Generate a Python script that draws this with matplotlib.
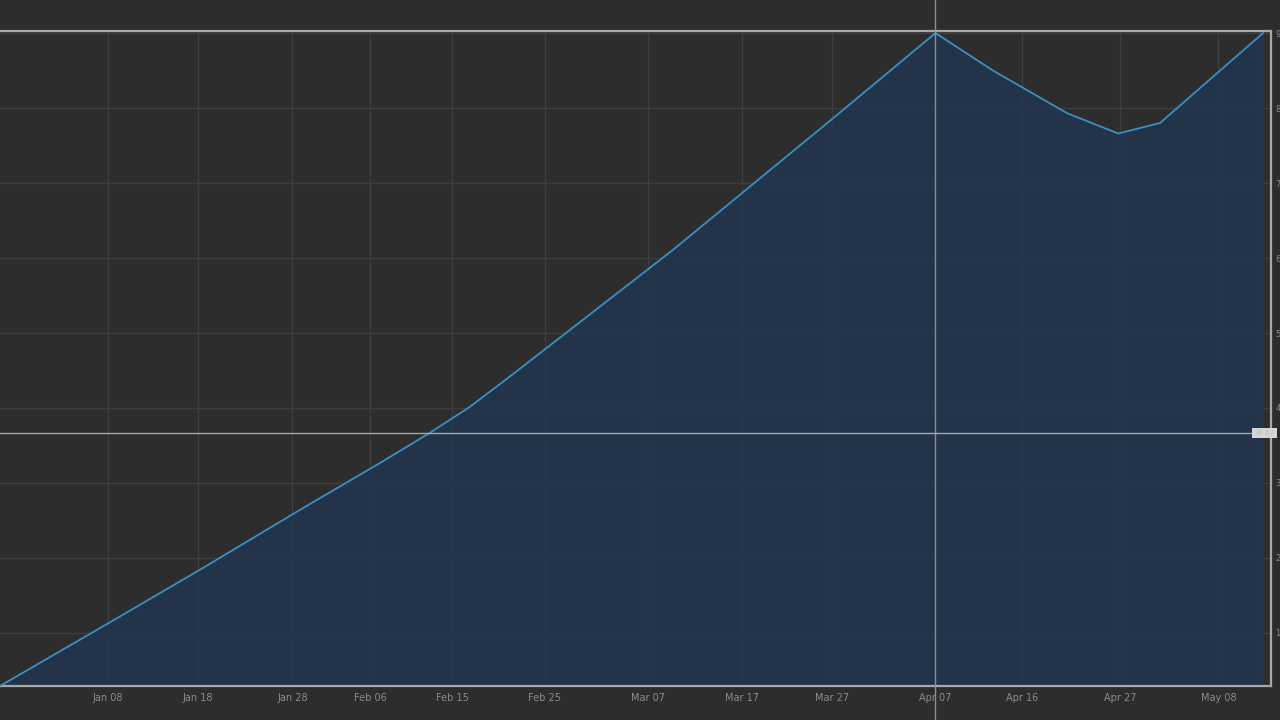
import matplotlib
matplotlib.use("Agg")
import matplotlib.pyplot as plt
import matplotlib.transforms as mtransforms

# ── Chart data ─────────────────────────────────────
DAYS   = [0, 10.8, 21.5, 32.3, 40.95, 46.3, 50.6, 54.6, 72.5, 89.8,
          100.8, 107.0, 115.0, 120.5, 125.0, 136.1]
VALUES = [2.93, 10.67, 18.4, 26.4, 32.67, 36.67, 40.13, 43.87, 61.07, 78.67,
          90.0, 85.0, 79.3, 76.6, 78.0, 90.0]

TICK_DAYS   = [11.6, 21.3, 31.5, 39.9, 48.7, 58.7, 69.8, 80.0, 89.7,
               100.8, 110.1, 120.7, 131.3]
TICK_LABELS = ["Jan 08", "Jan 18", "Jan 28", "Feb 06", "Feb 15", "Feb 25",
               "Mar 07", "Mar 17", "Mar 27", "Apr 07", "Apr 16", "Apr 27",
               "May 08"]
Y_TICKS = [10, 20, 30, 40, 50, 60, 70, 80, 90]

CROSS_DAY   = 100.8
CROSS_VALUE = 36.67

# ── Styling ────────────────────────────────────────
BG      = "#2d2d2d"
GRID    = "#3e3e3e"
FRAME   = "#a8a8a8"
LINE    = "#3b8fc4"
FILL    = "#223650"
TICKCOL = "#8c8c8c"

fig = plt.figure(figsize=(12.8, 7.2), dpi=100)
fig.patch.set_facecolor(BG)
ax = fig.add_axes([0.0, 34 / 720, 1271 / 1280, 655 / 720])
ax.set_facecolor(BG)

ax.fill_between(DAYS, VALUES, 0, color=FILL, alpha=0.86, zorder=2)
ax.plot(DAYS, VALUES, color=LINE, linewidth=1.3, zorder=3)

ax.set_xlim(0, 136.96)
ax.set_ylim(2.93, 90.27)

ax.set_xticks(TICK_DAYS)
ax.set_xticklabels(TICK_LABELS)
ax.set_yticks(Y_TICKS)
ax.yaxis.tick_right()
ax.tick_params(axis="x", colors=TICKCOL, labelsize=7, length=0, pad=5)
ax.tick_params(axis="y", colors=TICKCOL, labelsize=6, length=0, pad=3)

ax.grid(True, color=GRID, linewidth=1.0, zorder=1)
ax.set_axisbelow(True)

for side in ["top", "bottom", "right"]:
    ax.spines[side].set_color(FRAME)
    ax.spines[side].set_linewidth(1.6)
ax.spines["left"].set_visible(False)

# ── Crosshair ──────────────────────────────────────
ax.axvline(CROSS_DAY, ymin=-0.06, ymax=1.06, color="#8a8f96",
           linewidth=1.0, clip_on=False, zorder=4)
ax.axhline(CROSS_VALUE, xmin=0, xmax=0.985, color="#a3a8ae",
           linewidth=1.0, zorder=4)

trans = mtransforms.blended_transform_factory(ax.transAxes, ax.transData)
ax.text(0.995, CROSS_VALUE, f"{CROSS_VALUE:.2f}", transform=trans,
        ha="center", va="center", fontsize=5, color="#bcbcbc",
        bbox=dict(boxstyle="square,pad=0.35", facecolor="#d6d6d6",
                  edgecolor="none"), zorder=6, clip_on=False)

plt.savefig("out.png", dpi=100, facecolor=BG)
plt.close()
